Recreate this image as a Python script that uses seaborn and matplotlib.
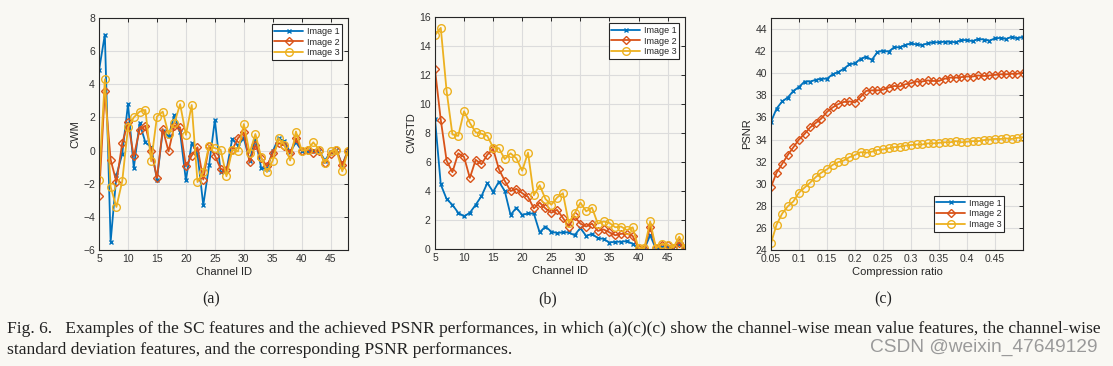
import matplotlib
matplotlib.use("Agg")
import matplotlib.pyplot as plt
import seaborn as sns
import pandas as pd

# ---------------- data ----------------
channels = list(range(5, 49))

cwm_img1 = [4.85, 7.0, -5.5, -1.5, -0.2, 2.8, -1.05, 1.65, 0.5, 0.2, -1.75, 1.2, 0.85, 2.15,
            1.1, -1.8, 0.45, -0.2, -3.3, -0.9, 1.85, -1.3, -1.2, 0.7, 0.3, 0.75, -0.6, 0.7,
            -1.05, -1.1, -0.05, 0.75, 0.55, -0.1, 0.5, 0.0, 0.0, 0.0, 0.0, -0.6, -0.1, 0.05,
            -0.9, 0.05]
cwm_img2 = [-2.75, 3.6, -0.55, -1.9, 0.45, 1.7, -0.35, 1.25, 1.5, 0.0, -1.65, 1.3, -0.05, 1.5,
            1.4, -0.95, -0.3, 0.2, -1.75, 0.3, -0.3, -1.1, -1.2, 0.05, 0.75, 1.1, -0.7, 0.35,
            -0.45, -0.95, -0.15, 0.45, 0.3, -0.15, 0.75, 0.0, 0.05, -0.15, 0.0, -0.75, -0.2, 0.05,
            -0.9, 0.0]
cwm_img3 = [-1.8, 4.3, -2.2, -3.4, -1.85, 1.4, 2.0, 2.35, 2.45, -0.65, 2.05, 2.35, 1.0, 1.65,
            2.8, 0.95, 2.75, -1.9, -1.3, 0.3, 0.15, 0.05, -1.55, 0.05, -0.05, 1.6, -0.15, 1.0,
            -0.4, -1.3, -0.6, 0.75, 0.35, -0.6, 1.15, 0.0, 0.05, 0.5, 0.05, -0.75, -0.05, 0.05,
            -1.25, 0.0]

cwstd_img1 = [9.0, 4.45, 3.45, 3.05, 2.5, 2.25, 2.5, 3.05, 3.65, 4.55, 3.95, 4.65, 4.0, 2.35,
              2.85, 2.35, 2.45, 2.45, 1.15, 1.55, 1.2, 1.1, 1.15, 1.15, 0.95, 1.45, 0.9, 1.05,
              0.75, 0.7, 0.45, 0.5, 0.5, 0.55, 0.35, 0.0, 0.0, 0.95, 0.0, 0.15, 0.15, 0.05,
              0.35, 0.0]
cwstd_img2 = [12.4, 8.9, 6.1, 5.3, 6.6, 6.35, 4.9, 6.15, 5.85, 6.5, 6.9, 5.5, 4.7, 4.0,
              4.15, 3.85, 3.6, 2.8, 3.2, 2.8, 2.5, 2.7, 2.15, 1.55, 2.25, 1.75, 1.55, 1.75,
              1.25, 1.35, 1.15, 0.95, 1.05, 1.05, 0.9, 0.0, 0.0, 1.55, 0.05, 0.3, 0.25, 0.05,
              0.45, 0.0]
cwstd_img3 = [14.75, 15.25, 10.9, 7.9, 7.8, 9.5, 8.7, 8.05, 7.95, 7.8, 7.0, 6.95, 6.2, 6.6,
              6.25, 5.4, 6.65, 3.7, 4.4, 3.45, 3.05, 3.55, 3.85, 1.8, 2.45, 3.2, 2.6, 2.85,
              1.75, 1.9, 1.8, 1.5, 1.55, 1.3, 1.5, 0.05, 0.05, 1.9, 0.05, 0.35, 0.3, 0.1,
              0.85, 0.05]

ratios = [0.05, 0.06, 0.07, 0.08, 0.09, 0.10, 0.11, 0.12, 0.13, 0.14, 0.15, 0.16, 0.17, 0.18,
          0.19, 0.20, 0.21, 0.22, 0.23, 0.24, 0.25, 0.26, 0.27, 0.28, 0.29, 0.30, 0.31, 0.32,
          0.33, 0.34, 0.35, 0.36, 0.37, 0.38, 0.39, 0.40, 0.41, 0.42, 0.43, 0.44, 0.45, 0.46,
          0.47, 0.48, 0.49, 0.50]
psnr_img1 = [35.6, 36.8, 37.45, 37.8, 38.4, 38.75, 39.25, 39.25, 39.4, 39.5, 39.5, 39.9, 40.1,
             40.4, 40.8, 40.9, 41.3, 41.5, 41.2, 41.9, 42.05, 41.95, 42.35, 42.35, 42.55, 42.7,
             42.6, 42.55, 42.7, 42.8, 42.8, 42.85, 42.85, 42.8, 43.0, 43.0, 42.9, 43.1, 43.05,
             42.95, 43.15, 43.2, 43.1, 43.3, 43.15, 43.3]
psnr_img2 = [29.7, 31.0, 31.8, 32.6, 33.3, 34.0, 34.5, 35.1, 35.5, 35.9, 36.5, 36.9, 37.2,
             37.4, 37.45, 37.35, 37.85, 38.4, 38.45, 38.45, 38.5, 38.7, 38.85, 38.8, 39.0, 39.1,
             39.25, 39.25, 39.35, 39.3, 39.3, 39.5, 39.6, 39.6, 39.65, 39.7, 39.7, 39.8, 39.75,
             39.8, 39.85, 39.9, 39.9, 39.95, 39.95, 40.05]
psnr_img3 = [24.6, 26.3, 27.3, 27.95, 28.4, 29.2, 29.65, 30.1, 30.6, 31.0, 31.3, 31.7, 31.95,
             32.1, 32.4, 32.6, 32.85, 32.8, 32.9, 33.05, 33.1, 33.2, 33.3, 33.35, 33.45, 33.5,
             33.55, 33.55, 33.65, 33.65, 33.7, 33.75, 33.75, 33.85, 33.75, 33.8, 33.85, 33.85,
             33.95, 34.0, 34.05, 34.05, 34.1, 34.05, 34.15, 34.2]

series_names = ["Image 1", "Image 2", "Image 3"]
panel_labels = ["(a)", "(b)", "(c)"]
caption_lines = [
    "Fig. 6.   Examples of the SC features and the achieved PSNR performances, in which (a)(c)(c) show the channel-wise mean value features, the channel-wise",
    "standard deviation features, and the corresponding PSNR performances.",
]
watermark = "CSDN @weixin_47649129"

# ---------------- style ----------------
BG = "#f9f8f3"
sns.set_style("whitegrid")
plt.rcParams["font.family"] = ["Liberation Sans", "DejaVu Sans"]
plt.rcParams.update({
    "figure.facecolor": BG,
    "axes.facecolor": BG,
    "savefig.facecolor": BG,
    "grid.color": "#dcdcdc",
    "grid.linewidth": 0.8,
    "axes.edgecolor": "#262626",
    "axes.linewidth": 0.8,
})

colors = ["#0072BD", "#D95319", "#EDB120"]
markers = ["x", "D", "o"]
msizes = [3.5, 4.2, 5.5]

fig = plt.figure(figsize=(11.13, 3.66), dpi=100)
ax_a = fig.add_axes([0.0890, 0.3169, 0.2237, 0.634])
ax_b = fig.add_axes([0.3908, 0.3196, 0.2247, 0.634])
ax_c = fig.add_axes([0.6927, 0.3169, 0.2264, 0.634])


def draw(ax, x, ys, xlabel, ylabel, loc, anchor):
    for name, y, c, m, ms in zip(series_names, ys, colors, markers, msizes):
        df = pd.DataFrame({"x": x, "y": y})
        sns.lineplot(data=df, x="x", y="y", ax=ax, color=c, marker=m, markersize=ms,
                     markerfacecolor="none", markeredgecolor=c, markeredgewidth=1.0,
                     linewidth=1.3, label=name)
    ax.set_xlabel(xlabel, fontsize=8, color="#262626", labelpad=2)
    ax.set_ylabel(ylabel, fontsize=8, color="#262626", labelpad=2)
    ax.tick_params(direction="in", length=3, width=0.7, labelsize=7.5, colors="#262626",
                   top=True, right=True)
    ax.tick_params(axis="x", pad=3)
    ax.tick_params(axis="y", pad=3)
    ax.tick_params(axis="both", which="both", labelcolor="#333333")
    for s in ax.spines.values():
        s.set_visible(True)
        s.set_color("#262626")
    leg = ax.legend(loc=loc, bbox_to_anchor=anchor, fontsize=6.5, frameon=True, fancybox=False,
                    edgecolor="#262626", framealpha=1, facecolor="white", handlelength=3.2,
                    borderpad=0.3, labelspacing=0.2, handletextpad=0.4, borderaxespad=0.0)
    leg.get_frame().set_linewidth(0.8)
    ax.grid(True)


draw(ax_a, channels, [cwm_img1, cwm_img2, cwm_img3], "Channel ID", "CWM",
     "upper right", (0.976, 0.974))
ax_a.set_xlim(5, 48)
ax_a.set_ylim(-6, 8)
ax_a.set_xticks([5, 10, 15, 20, 25, 30, 35, 40, 45])
ax_a.set_yticks([-6, -4, -2, 0, 2, 4, 6, 8])

draw(ax_b, channels, [cwstd_img1, cwstd_img2, cwstd_img3], "Channel ID", "CWSTD",
     "upper right", (0.976, 0.974))
ax_b.set_xlim(5, 48)
ax_b.set_ylim(0, 16)
ax_b.set_xticks([5, 10, 15, 20, 25, 30, 35, 40, 45])
ax_b.set_yticks([0, 2, 4, 6, 8, 10, 12, 14, 16])

draw(ax_c, ratios, [psnr_img1, psnr_img2, psnr_img3], "Compression ratio", "PSNR",
     "lower right", (0.925, 0.078))
ax_c.set_xlim(0.05, 0.5)
ax_c.set_ylim(24, 45)
ax_c.set_xticks([0.05, 0.1, 0.15, 0.2, 0.25, 0.3, 0.35, 0.4, 0.45])
ax_c.set_xticklabels(["0.05", "0.1", "0.15", "0.2", "0.25", "0.3", "0.35", "0.4", "0.45"])
ax_c.set_yticks([24, 26, 28, 30, 32, 34, 36, 38, 40, 42, 44])

serif = ["Liberation Serif", "DejaVu Serif"]
for lbl, xc in zip(panel_labels, [211 / 1113, 548 / 1113, 883 / 1113]):
    fig.text(xc, 1 - 299 / 366, lbl, ha="center", va="center", fontsize=11.5,
             family=serif, color="#222222")

fig.text(7 / 1113, 1 - 329 / 366, caption_lines[0], ha="left", va="center", fontsize=12.6,
         family=serif, color="#222222")
fig.text(7 / 1113, 1 - 350 / 366, caption_lines[1], ha="left", va="center", fontsize=12.6,
         family=serif, color="#222222")
fig.text(1097 / 1113, 1 - 347 / 366, watermark, ha="right", va="center", fontsize=13.8,
         family=["Liberation Sans", "DejaVu Sans"], color="#9a9a9a")

fig.savefig("out.png", dpi=100, facecolor=BG)
